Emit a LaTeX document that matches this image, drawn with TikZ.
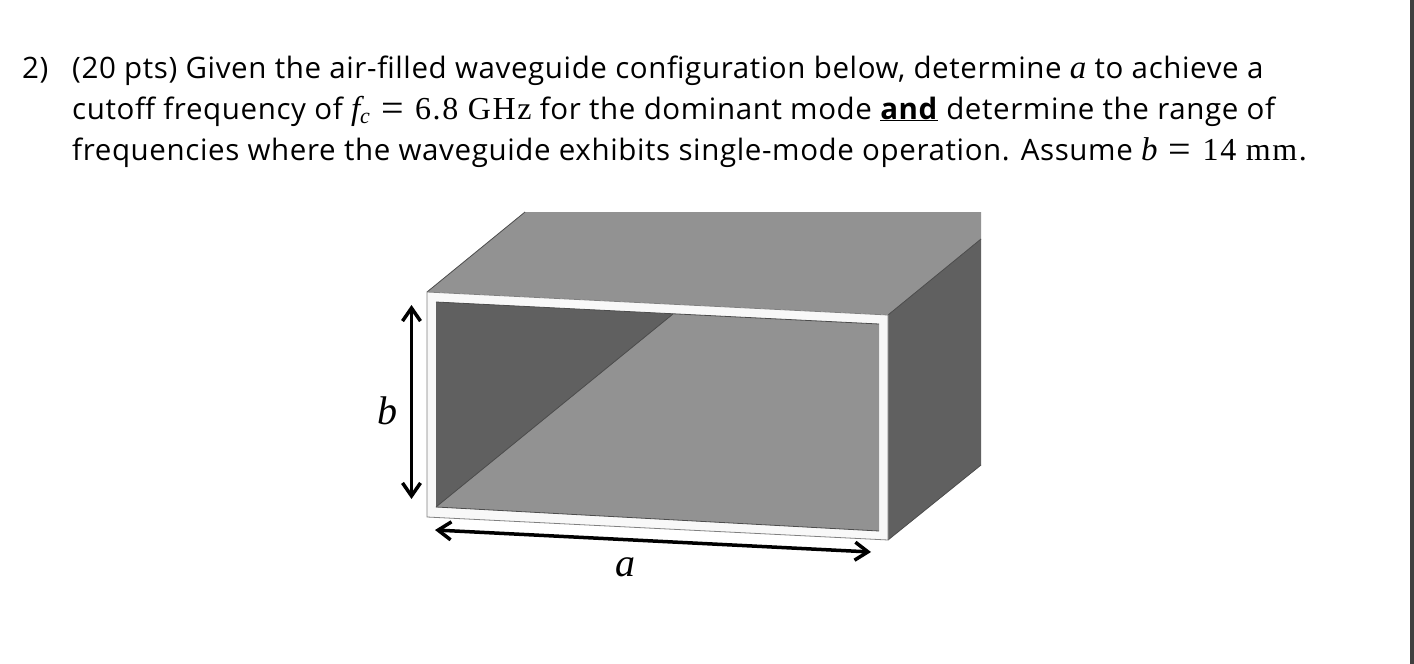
\documentclass[tikz,border=0pt]{standalone}
\usepackage{fontspec}
\setmainfont{Open Sans}[LetterSpace=2.1]
\newfontfamily\mathserif{Liberation Serif}[LetterSpace=5]
\newfontfamily\mathitalic{Liberation Serif Italic}
\newcommand{\mvar}[1]{{\mathitalic #1}}
\newcommand{\mbig}[1]{{\fontsize{33}{35}\selectfont\mvar{#1}}}
\newcommand{\mnum}[1]{{\mathserif\fontsize{32}{35}\selectfont #1}}
\newcommand{\msub}[1]{\raisebox{-0.3ex}{\fontsize{22}{24}\selectfont\mvar{#1}}}
\newcommand{\meq}{\hspace{3pt}\raisebox{-2pt}{\mathserif\fontsize{40}{42}\selectfont =}\hspace{3pt}}
\usetikzlibrary{arrows.meta}
\definecolor{facelight}{HTML}{929292}
\definecolor{facedark}{HTML}{606060}
\definecolor{framewhite}{HTML}{F8F8F8}
\definecolor{pageedge}{HTML}{404040}
\tikzset{
    textline/.style={anchor=base west, inner sep=0pt, font=\fontsize{29.5}{35}\selectfont},
    symlabel/.style={inner sep=0pt, font=\fontsize{40}{44}\selectfont},
    edgeline/.style={draw=black!70, line width=0.8pt},
    dimarrow/.style={line width=3.5pt, {Straight Barb[length=13pt,width=18pt,line width=3.5pt]}-{Straight Barb[length=13pt,width=18pt,line width=3.5pt]}}
}
\begin{document}
\begin{tikzpicture}[x=1pt,y=-1pt]
    \useasboundingbox (0,0) rectangle (1414,664);
    \fill[pageedge] (1410,0) rectangle (1414,664);

    % Question text
    \node[textline] (num) at (22,78) {2)};
    \foreach \y/\name/\line in {
        78/one/{(20 pts) Given the air-filled waveguide configuration below, determine \mbig{a} to achieve a},
        119/two/{cutoff frequency of \mbig{f}\msub{c} \meq{} \mnum{6.8 GHz} for the dominant mode \underline{\textbf{and}} determine the range of},
        160/three/{frequencies where the waveguide exhibits single-mode operation. Assume \mbig{b} \meq{} \mnum{14 mm.}}} {
        \node[textline] (\name) at (72,\y) {\line};
    }

    % Outer corners of the box
    \coordinate (ftl) at (427,292);
    \coordinate (fbl) at (427,517);
    \coordinate (ftr) at (888,315);
    \coordinate (fbr) at (888,540);
    \coordinate (btl) at (525,212);
    \coordinate (btr) at (981,212);
    \coordinate (bmr) at (981,239);
    \coordinate (bbr) at (981,465);

    % Inner corners of the opening
    \coordinate (itl) at (436,302);
    \coordinate (ibl) at (436,507);
    \coordinate (itr) at (879,324);
    \coordinate (ibr) at (879,531);
    \coordinate (itm) at (673,314);

    % Faces
    \fill[facelight] (ftl) -- (btl) -- (btr) -- (bmr) -- (ftr) -- cycle;
    \fill[facedark] (ftr) -- (bmr) -- (bbr) -- (fbr) -- cycle;
    \draw[edgeline] (btl) -- (ftl);
    \draw[edgeline] (ftr) -- (bmr);
    \draw[edgeline] (fbr) -- (bbr);

    % Front frame and the opening
    \filldraw[fill=framewhite, draw=black!50, line width=0.8pt] (ftl) -- (ftr) -- (fbr) -- (fbl) -- cycle;
    \fill[facelight] (itl) -- (itr) -- (ibr) -- (ibl) -- cycle;
    \fill[facedark] (itl) -- (itm) -- (ibl) -- cycle;
    \draw[edgeline] (itm) -- (ibl);
    \draw[edgeline] (itl) -- (itr);
    \draw[edgeline] (ibl) -- (ibr);

    % Dimension arrows
    \coordinate (btop) at (411.5,305);
    \coordinate (bbot) at (411.5,499);
    \coordinate (aleft) at (435,530);
    \coordinate (aright) at (871,552);
    \draw[dimarrow] (btop) -- (bbot);
    \draw[dimarrow] (aleft) -- (aright);
    \node[symlabel] (blabel) at (387,411) {\mvar{b}};
    \node[symlabel] (alabel) at (625,567) {\mvar{a}};
\end{tikzpicture}
\end{document}
